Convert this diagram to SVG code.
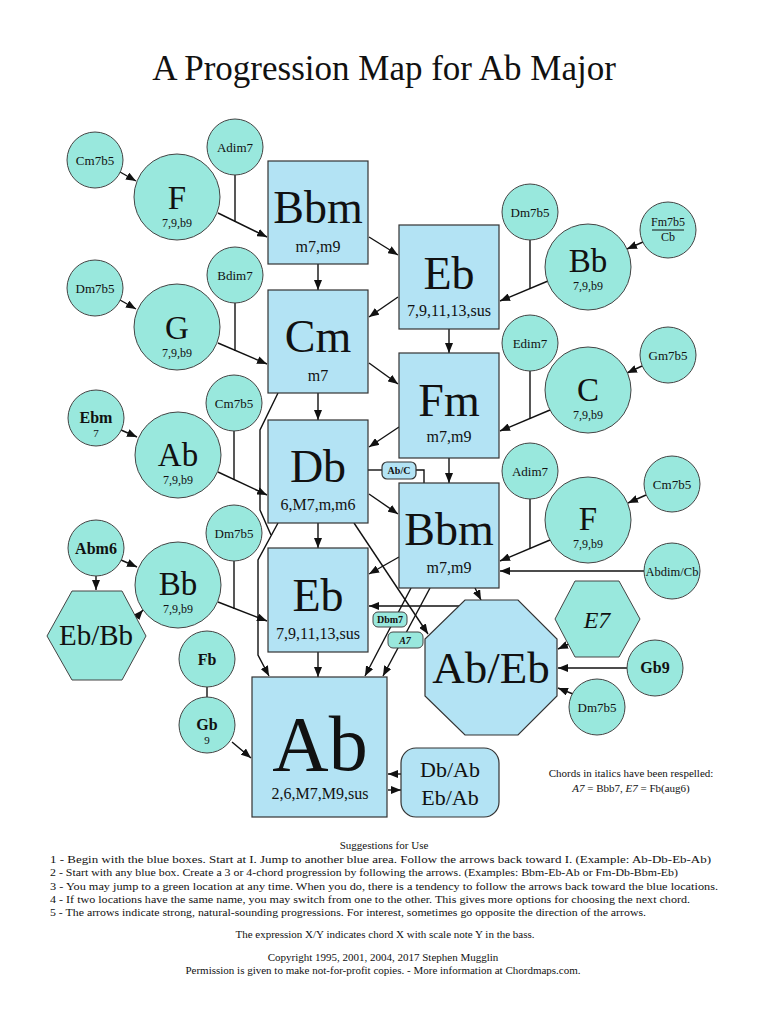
<svg xmlns="http://www.w3.org/2000/svg" width="768" height="1024" viewBox="0 0 768 1024">
<style>
text{font-family:"Liberation Serif","Times New Roman","DejaVu Serif",serif;fill:#111;text-anchor:middle}
.box{fill:#b3e3f4;stroke:#333;stroke-width:1.2}
.grn{fill:#99e8dd;stroke:#444;stroke-width:1}
.big{font-size:46px}
.sub{font-size:16px}
.cbig{font-size:33px}
.csub{font-size:12px}
.sm{font-size:13px}
.bd{font-size:16px;font-weight:bold}
.tag{font-size:10px;font-weight:bold}
.note{font-size:11px}
.ln{fill:none;stroke:#111;stroke-width:1.4}
.ar{marker-end:url(#ah)}
</style>
<defs>
<marker id="ah" markerUnits="userSpaceOnUse" markerWidth="10" markerHeight="8" refX="10" refY="4" orient="auto">
<path d="M0,0 L10,4 L0,8 z" fill="#111"/>
</marker>
</defs>
<rect width="768" height="1024" fill="#fff"/>
<text x="384" y="80" style="font-size:35px">A Progression Map for Ab Major</text>

<g id="connectors">
<line class="ln ar" x1="120" y1="172" x2="136" y2="181"/>
<line class="ln ar" x1="218" y1="213" x2="267" y2="237"/>
<line class="ln" x1="235" y1="175" x2="235" y2="222"/>
<line class="ln ar" x1="120" y1="300" x2="136" y2="309"/>
<line class="ln ar" x1="218" y1="343" x2="267" y2="364"/>
<line class="ln" x1="235" y1="303" x2="235" y2="351"/>
<line class="ln ar" x1="318" y1="264" x2="318" y2="290"/>
<line class="ln ar" x1="369" y1="237" x2="398" y2="255"/>
<line class="ln ar" x1="398" y1="297" x2="369" y2="317"/>
<line class="ln ar" x1="449" y1="329" x2="449" y2="353"/>
<line class="ln ar" x1="548" y1="281" x2="500" y2="301"/>
<line class="ln" x1="530" y1="240" x2="530" y2="289"/>
<line class="ln ar" x1="643" y1="242" x2="627" y2="249"/>
<line class="ln ar" x1="369" y1="363" x2="398" y2="384"/>
<line class="ln ar" x1="642" y1="366" x2="627" y2="373"/>
<line class="ln ar" x1="550" y1="410" x2="500" y2="431"/>
<line class="ln" x1="530" y1="371" x2="530" y2="419"/>
<line class="ln ar" x1="318" y1="393" x2="318" y2="420"/>
<line class="ln ar" x1="399" y1="427" x2="369" y2="447"/>
<line class="ln ar" x1="449" y1="458" x2="449" y2="483"/>
<line class="ln" x1="368" y1="470" x2="382" y2="470"/>
<polyline class="ln" points="416,470 424,470 424,483"/>
<line class="ln ar" x1="369" y1="494" x2="398" y2="514"/>
<line class="ln ar" x1="121" y1="430" x2="137" y2="437"/>
<line class="ln ar" x1="218" y1="472" x2="267" y2="495"/>
<line class="ln" x1="234" y1="431" x2="234" y2="480"/>
<line class="ln ar" x1="121" y1="560" x2="137" y2="567"/>
<line class="ln ar" x1="96" y1="576" x2="96" y2="590"/>
<line class="ln ar" x1="134" y1="620" x2="143" y2="610"/>
<line class="ln ar" x1="218" y1="602" x2="267" y2="621"/>
<line class="ln" x1="234" y1="561" x2="234" y2="609"/>
<line class="ln ar" x1="318" y1="523" x2="318" y2="548"/>
<line class="ln ar" x1="318" y1="652" x2="318" y2="677"/>
<line class="ln ar" x1="399" y1="557" x2="369" y2="574"/>
<line class="ln ar" x1="644" y1="571" x2="500" y2="571"/>
<line class="ln ar" x1="550" y1="540" x2="500" y2="561"/>
<line class="ln" x1="530" y1="499" x2="530" y2="549"/>
<line class="ln ar" x1="646" y1="495" x2="628" y2="503"/>
<line class="ln ar" x1="459" y1="606" x2="369" y2="606"/>
<line class="ln ar" x1="411" y1="588" x2="365" y2="676"/>
<line class="ln ar" x1="430" y1="588" x2="383" y2="676"/>
<line class="ln ar" x1="475" y1="588" x2="481" y2="600"/>
<line class="ln ar" x1="354" y1="523" x2="428" y2="634"/>
<polyline class="ln" points="278,393 260,430 260,510 271,535"/>
<polyline class="ln ar" points="278,523 258,560 258,655 269,676"/>
<line class="ln ar" x1="232" y1="742" x2="251" y2="758"/>
<line class="ln" x1="207" y1="687" x2="207" y2="697"/>
<line class="ln ar" x1="401" y1="774" x2="388" y2="774"/>
<line class="ln ar" x1="388" y1="790" x2="401" y2="790"/>
<line class="ln ar" x1="569" y1="644" x2="558" y2="649"/>
<line class="ln ar" x1="627" y1="668" x2="558" y2="668"/>
<line class="ln ar" x1="573" y1="694" x2="558" y2="688"/>
</g>

<g id="bbm-top"><rect class="box" x="268" y="161" width="100" height="103"/><text class="big" x="318" y="223">Bbm</text><text class="sub" x="318" y="252">m7,m9</text></g>
<g id="cm"><rect class="box" x="268" y="290" width="100" height="103"/><text class="big" x="318" y="352">Cm</text><text class="sub" x="318" y="381">m7</text></g>
<g id="db"><rect class="box" x="268" y="420" width="100" height="103"/><text class="big" x="318" y="482">Db</text><text class="sub" x="318" y="510">6,M7,m,m6</text></g>
<g id="eb-low"><rect class="box" x="268" y="548" width="100" height="104"/><text class="big" x="318" y="611">Eb</text><text class="sub" x="318" y="639">7,9,11,13,sus</text></g>
<g id="eb-up"><rect class="box" x="399" y="225" width="100" height="104"/><text class="big" x="449" y="289">Eb</text><text class="sub" x="449" y="316">7,9,11,13,sus</text></g>
<g id="fm"><rect class="box" x="399" y="353" width="100" height="105"/><text class="big" x="449" y="416">Fm</text><text class="sub" x="449" y="442">m7,m9</text></g>
<g id="bbm-low"><rect class="box" x="399" y="483" width="100" height="105"/><text class="big" x="449" y="545">Bbm</text><text class="sub" x="449" y="573">m7,m9</text></g>
<g id="ab"><rect class="box" x="252" y="677" width="135" height="140"/><text x="320" y="770" style="font-size:78px">Ab</text><text class="sub" x="320" y="799">2,6,M7,M9,sus</text></g>
<g id="dbab"><rect class="box" x="401" y="748" width="98" height="69" rx="15"/><text x="450" y="777" style="font-size:22px">Db/Ab</text><text x="450" y="805" style="font-size:22px">Eb/Ab</text></g>
<g id="abeb"><polygon class="box" points="465,600 518,600 557,639 557,696 518,735 465,735 425,696 425,639"/><text x="491" y="683" style="font-size:45px">Ab/Eb</text></g>

<g id="tag-abc"><rect class="box" x="382" y="462" width="34" height="17" rx="5"/><text class="tag" x="399" y="474">Ab/C</text></g>
<g id="tag-dbm7"><rect class="grn" x="373" y="612" width="34" height="15" rx="5"/><text class="tag" x="390" y="623">Dbm7</text></g>
<g id="tag-a7"><rect class="grn" x="388" y="632" width="35" height="16" rx="5"/><text class="tag" x="405" y="644" style="font-style:italic">A7</text></g>

<g id="cm7b5-a"><circle class="grn" cx="95" cy="160" r="28"/><text class="sm" x="95" y="165">Cm7b5</text></g>
<g id="f-a"><circle class="grn" cx="177" cy="197" r="43"/><text class="cbig" x="177" y="209">F</text><text class="csub" x="177" y="227">7,9,b9</text></g>
<g id="adim7-a"><circle class="grn" cx="235" cy="147" r="28"/><text class="sm" x="235" y="152">Adim7</text></g>
<g id="dm7b5-a"><circle class="grn" cx="95" cy="288" r="28"/><text class="sm" x="95" y="293">Dm7b5</text></g>
<g id="g"><circle class="grn" cx="177" cy="327" r="43"/><text class="cbig" x="177" y="339">G</text><text class="csub" x="177" y="357">7,9,b9</text></g>
<g id="bdim7"><circle class="grn" cx="235" cy="275" r="28"/><text class="sm" x="235" y="280">Bdim7</text></g>
<g id="dm7b5-b"><circle class="grn" cx="530" cy="212" r="28"/><text class="sm" x="530" y="217">Dm7b5</text></g>
<g id="bb-r"><circle class="grn" cx="588" cy="267" r="43"/><text class="cbig" x="588" y="272">Bb</text><text class="csub" x="588" y="290">7,9,b9</text></g>
<g id="fm7b5cb"><circle class="grn" cx="668" cy="230" r="28"/><text class="csub" x="668" y="226">Fm7b5</text><line x1="652" y1="230" x2="684" y2="230" stroke="#111" stroke-width="1"/><text class="csub" x="668" y="241">Cb</text></g>
<g id="edim7"><circle class="grn" cx="530" cy="343" r="28"/><text class="sm" x="530" y="348">Edim7</text></g>
<g id="gm7b5"><circle class="grn" cx="668" cy="355" r="28"/><text class="sm" x="668" y="360">Gm7b5</text></g>
<g id="c"><circle class="grn" cx="588" cy="390" r="43"/><text class="cbig" x="588" y="401">C</text><text class="csub" x="588" y="419">7,9,b9</text></g>
<g id="ebm7"><circle class="grn" cx="96" cy="418" r="28"/><text class="bd" x="96" y="423">Ebm</text><text x="96" y="437" style="font-size:11px">7</text></g>
<g id="ab-l"><circle class="grn" cx="178" cy="455" r="43"/><text class="cbig" x="178" y="466">Ab</text><text class="csub" x="178" y="484">7,9,b9</text></g>
<g id="cm7b5-b"><circle class="grn" cx="234" cy="403" r="28"/><text class="sm" x="234" y="408">Cm7b5</text></g>
<g id="abm6"><circle class="grn" cx="96" cy="548" r="28"/><text class="bd" x="96" y="554">Abm6</text></g>
<g id="bb-l"><circle class="grn" cx="178" cy="585" r="43"/><text class="cbig" x="178" y="595">Bb</text><text class="csub" x="178" y="613">7,9,b9</text></g>
<g id="dm7b5-c"><circle class="grn" cx="234" cy="533" r="28"/><text class="sm" x="234" y="538">Dm7b5</text></g>
<g id="ebbb"><polygon class="grn" points="47,636 72,591 122,591 146,636 122,680 72,680"/><text x="96" y="645" style="font-size:29px">Eb/Bb</text></g>
<g id="fb"><circle class="grn" cx="207" cy="659" r="28"/><text class="bd" x="207" y="665">Fb</text></g>
<g id="gb"><circle class="grn" cx="207" cy="725" r="28"/><text class="bd" x="207" y="730">Gb</text><text x="207" y="744" style="font-size:11px">9</text></g>
<g id="adim7-b"><circle class="grn" cx="530" cy="471" r="28"/><text class="sm" x="530" y="476">Adim7</text></g>
<g id="f-b"><circle class="grn" cx="588" cy="520" r="43"/><text class="cbig" x="588" y="530">F</text><text class="csub" x="588" y="548">7,9,b9</text></g>
<g id="cm7b5-c"><circle class="grn" cx="672" cy="484" r="28"/><text class="sm" x="672" y="489">Cm7b5</text></g>
<g id="abdimcb"><circle class="grn" cx="672" cy="571" r="28"/><text class="sm" x="672" y="576" style="font-size:12.5px">Abdim/Cb</text></g>
<g id="e7"><polygon class="grn" points="555,619 575,581 619,581 640,619 619,657 575,657"/><text x="597" y="628" style="font-size:24px;font-style:italic">E7</text></g>
<g id="gb9"><circle class="grn" cx="655" cy="668" r="28"/><text class="bd" x="655" y="673">Gb9</text></g>
<g id="dm7b5-d"><circle class="grn" cx="597" cy="707" r="28"/><text class="sm" x="597" y="712">Dm7b5</text></g>

<g id="notes">
<text class="note" x="631" y="777">Chords in italics have been respelled:</text>
<text class="note" x="631" y="792"><tspan font-style="italic">A7</tspan> = Bbb7, <tspan font-style="italic">E7</tspan> = Fb(aug6)</text>
<text class="note" x="384" y="849">Suggestions for Use</text>
<text class="note" style="text-anchor:start" x="50" y="863" textLength="661" lengthAdjust="spacingAndGlyphs">1 - Begin with the blue boxes. Start at I. Jump to another blue area. Follow the arrows back toward I. (Example: Ab-Db-Eb-Ab)</text>
<text class="note" style="text-anchor:start" x="50" y="876" textLength="628" lengthAdjust="spacingAndGlyphs">2 - Start with any blue box. Create a 3 or 4-chord progression by following the arrows. (Examples: Bbm-Eb-Ab or Fm-Db-Bbm-Eb)</text>
<text class="note" style="text-anchor:start" x="50" y="890" textLength="668" lengthAdjust="spacingAndGlyphs">3 - You may jump to a green location at any time. When you do, there is a tendency to follow the arrows back toward the blue locations.</text>
<text class="note" style="text-anchor:start" x="50" y="903" textLength="640" lengthAdjust="spacingAndGlyphs">4 - If two locations have the same name, you may switch from one to the other. This gives more options for choosing the next chord.</text>
<text class="note" style="text-anchor:start" x="50" y="916" textLength="596" lengthAdjust="spacingAndGlyphs">5 - The arrows indicate strong, natural-sounding progressions. For interest, sometimes go opposite the direction of the arrows.</text>
<text class="note" x="385" y="938">The expression X/Y indicates chord X with scale note Y in the bass.</text>
<text class="note" x="383" y="961">Copyright 1995, 2001, 2004, 2017 Stephen Mugglin</text>
<text class="note" x="383" y="974">Permission is given to make not-for-profit copies. - More information at Chordmaps.com.</text>
</g>
</svg>
